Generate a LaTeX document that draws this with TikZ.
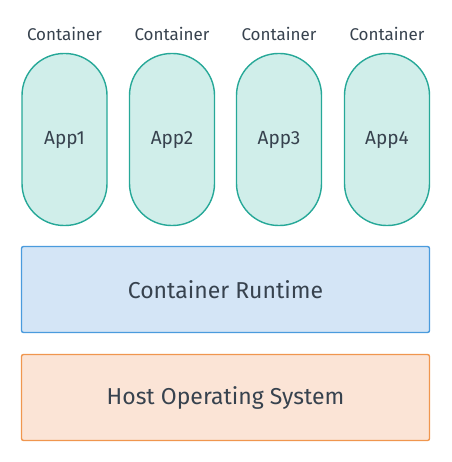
\documentclass[tikz,border=0pt]{standalone}
\usepackage{fontspec}
\setmainfont{Fira Sans}
\usepackage{tikz}
\usetikzlibrary{positioning}
\definecolor{appline}{RGB}{38, 168, 152}
\definecolor{appfill}{RGB}{208, 238, 234}
\definecolor{rtline}{RGB}{74, 155, 221}
\definecolor{rtfill}{RGB}{212, 229, 246}
\definecolor{osline}{RGB}{240, 150, 78}
\definecolor{osfill}{RGB}{251, 228, 214}
\definecolor{txt}{RGB}{55, 66, 78}

\tikzset{
  pill/.style={draw=appline, fill=appfill, line width=1.4pt, rounded corners=42pt,
    minimum width=85pt, minimum height=172pt, text=txt, font=\fontsize{19}{22}\selectfont},
  tag/.style={text=txt, font=\fontsize{17}{20}\selectfont, inner sep=1pt},
  layer/.style={line width=1.4pt, rounded corners=2pt, minimum width=408pt,
    minimum height=86pt, text=txt, font=\fontsize{23}{27}\selectfont}
}

\begin{document}
\begin{tikzpicture}[x=1pt, y=-1pt]
  \useasboundingbox (0,0) rectangle (451,462);

  % Containers
  \foreach \i/\x in {1/64.5, 2/172, 3/279, 4/387} {
    \node[pill] (app\i) at (\x, 139.5) {App\i};
    \node[tag, above=11pt of app\i] (cont\i) {Container};
  }

  % Layers
  \node[layer, draw=rtline, fill=rtfill] (runtime) at (225.5, 289.5) {Container Runtime};
  \node[layer, draw=osline, fill=osfill] (hostos) at (225.5, 397.5) {Host Operating System};
\end{tikzpicture}
\end{document}
